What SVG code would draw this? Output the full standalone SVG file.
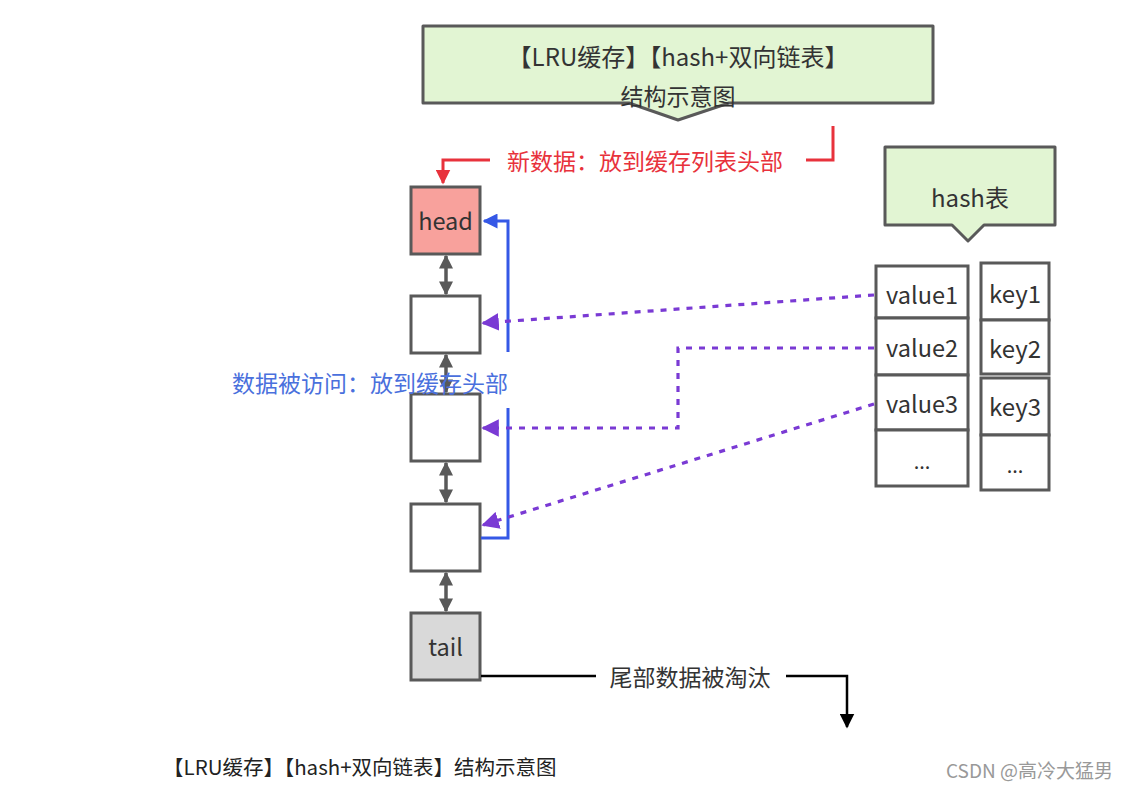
<svg xmlns="http://www.w3.org/2000/svg" width="1128" height="788" viewBox="0 0 1128 788">
<defs>
<style>
.t{font-family:"Noto Sans CJK SC","Noto Sans",sans-serif;}
.box{stroke:#595959;stroke-width:3;}
.lbl{fill:#333;text-anchor:middle;dominant-baseline:central;}
.gray{stroke:#595959;stroke-width:3.5;fill:none;}
.purple{stroke:#7a3ad4;stroke-width:3.2;fill:none;stroke-dasharray:6 7;}
</style>
<marker id="ag" viewBox="0 0 10 10" refX="9" refY="5" markerWidth="4" markerHeight="4" orient="auto-start-reverse"><path d="M0,0 L10,5 L0,10 z" fill="#595959"/></marker>
<marker id="ar" viewBox="0 0 10 10" refX="9" refY="5" markerWidth="5" markerHeight="5" orient="auto"><path d="M0,0 L10,5 L0,10 z" fill="#e8323c"/></marker>
<marker id="ab" viewBox="0 0 10 10" refX="9" refY="5" markerWidth="5" markerHeight="5" orient="auto"><path d="M0,0 L10,5 L0,10 z" fill="#3558e6"/></marker>
<marker id="ap" viewBox="0 0 10 10" refX="9" refY="5" markerWidth="5.5" markerHeight="5.5" orient="auto"><path d="M0,0 L10,5 L0,10 z" fill="#7a3ad4"/></marker>
<marker id="ak" viewBox="0 0 10 10" refX="9" refY="5" markerWidth="6" markerHeight="6" orient="auto"><path d="M0,0 L10,5 L0,10 z" fill="#000"/></marker>
</defs>
<rect width="1128" height="788" fill="#fff"/>

<g id="title-callout">
<path d="M423,26 H933 V103 H729 L678,120 L629,103 H423 Z" fill="#e2f5d3" class="box" stroke-linejoin="round"/>
<text x="678" y="55" class="t lbl" font-size="24">【LRU缓存】【hash+双向链表】</text>
<text x="678" y="95" class="t lbl" font-size="23">结构示意图</text>
</g>

<g id="hash-callout">
<path d="M885,147 H1055 V225 H984 L968,241 L952,225 H885 Z" fill="#e2f5d3" class="box" stroke-linejoin="round"/>
<text x="970" y="196" class="t lbl" font-size="24">hash表</text>
</g>

<g id="head"><rect x="411" y="187" width="69" height="67" fill="#f8a19c" class="box"/><text x="445.5" y="220" class="t lbl" font-size="23.5">head</text></g>
<g id="node2"><rect x="411" y="296" width="69" height="57" fill="#fff" class="box"/></g>
<g id="node3"><rect x="411" y="394" width="69" height="67" fill="#fff" class="box"/></g>
<g id="node4"><rect x="411" y="504" width="69" height="67" fill="#fff" class="box"/></g>
<g id="tail"><rect x="411" y="613" width="69" height="67" fill="#d9d9d9" class="box"/><text x="445.5" y="646" class="t lbl" font-size="23.5">tail</text></g>

<g id="value-column">
<rect x="876" y="266" width="92" height="52" fill="#fff" class="box"/>
<rect x="876" y="318" width="92" height="57" fill="#fff" class="box"/>
<rect x="876" y="375" width="92" height="55" fill="#fff" class="box"/>
<rect x="876" y="430" width="92" height="56" fill="#fff" class="box"/>
<text x="922" y="294" class="t lbl" font-size="23.5">value1</text>
<text x="922" y="347" class="t lbl" font-size="23.5">value2</text>
<text x="922" y="403" class="t lbl" font-size="23.5">value3</text>
<text x="922" y="460" class="t lbl" font-size="20">...</text>
</g>
<g id="key-column">
<rect x="981" y="263" width="68" height="57" fill="#fff" class="box"/>
<rect x="981" y="320" width="68" height="54" fill="#fff" class="box"/>
<rect x="981" y="378" width="68" height="57" fill="#fff" class="box"/>
<rect x="981" y="435" width="68" height="55" fill="#fff" class="box"/>
<text x="1015" y="292" class="t lbl" font-size="24">key1</text>
<text x="1015" y="347" class="t lbl" font-size="24">key2</text>
<text x="1015" y="405" class="t lbl" font-size="24">key3</text>
<text x="1015" y="464" class="t lbl" font-size="20">...</text>
</g>

<g id="connectors">
<line x1="446" y1="256" x2="446" y2="294" class="gray" marker-start="url(#ag)" marker-end="url(#ag)"/>
<line x1="446" y1="355" x2="446" y2="392" class="gray" marker-start="url(#ag)" marker-end="url(#ag)"/>
<line x1="446" y1="463" x2="446" y2="502" class="gray" marker-start="url(#ag)" marker-end="url(#ag)"/>
<line x1="446" y1="573" x2="446" y2="611" class="gray" marker-start="url(#ag)" marker-end="url(#ag)"/>

<path d="M833,126 V160 H806" stroke="#e8323c" stroke-width="3" fill="none"/>
<path d="M490,160 H443 V183" stroke="#e8323c" stroke-width="3" fill="none" marker-end="url(#ar)"/>
<text x="645" y="160" class="t" font-size="23" fill="#e8323c" text-anchor="middle" dominant-baseline="central">新数据：放到缓存列表头部</text>

<path d="M481,538 H508 V408" stroke="#3558e6" stroke-width="3" fill="none"/>
<path d="M508,352 V221 H484" stroke="#3558e6" stroke-width="3" fill="none" marker-end="url(#ab)"/>
<text x="370" y="382" class="t" font-size="23" fill="#4a70dd" text-anchor="middle" dominant-baseline="central">数据被访问：放到缓存头部</text>

<path d="M874,295 L483,323" class="purple" marker-end="url(#ap)"/>
<path d="M874,348 H678 V428 H483" class="purple" marker-end="url(#ap)"/>
<path d="M874,404 L483,525" class="purple" marker-end="url(#ap)"/>

<path d="M481,676 H596" stroke="#000" stroke-width="2.5" fill="none"/>
<path d="M786,676 H847 V727" stroke="#000" stroke-width="2.5" fill="none" marker-end="url(#ak)"/>
<text x="690" y="676" class="t" font-size="23" fill="#333" text-anchor="middle" dominant-baseline="central">尾部数据被淘汰</text>
</g>

<text x="163" y="766" class="t" font-size="20.5" fill="#222" dominant-baseline="central">【LRU缓存】【hash+双向链表】结构示意图</text>
<text x="1113" y="769" class="t" font-size="19" fill="#999" text-anchor="end" dominant-baseline="central">CSDN @高冷大猛男</text>
</svg>
